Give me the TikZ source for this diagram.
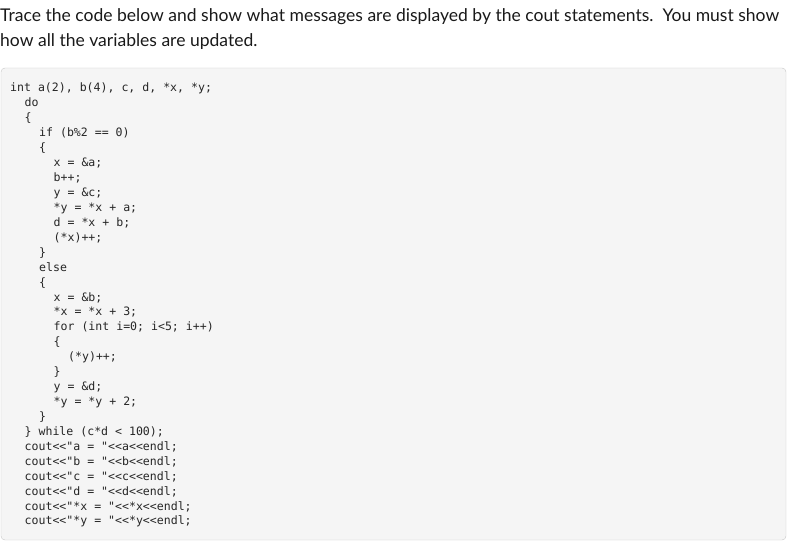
\documentclass[tikz,border=0pt]{standalone}
\usepackage{fontspec}
\setmainfont{Lato}
\setmonofont{DejaVu Sans Mono}
\begin{document}
\begin{tikzpicture}[x=1bp,y=-1bp,
  code/.style={anchor=base west,inner sep=0,font=\ttfamily\fontsize{11.6}{12}\selectfont,text=black!85},
  head/.style={anchor=base west,inner sep=0,font=\fontsize{17.6}{20}\selectfont,text=black!90}]
\useasboundingbox (0,0) rectangle (787,552);
\node[head] (h1) at (0,22) {Trace the code below and show what messages are displayed by the cout statements.\ \ You must show};
\node[head] (h2) at (0,47) {how all the variables are updated.};
\draw[draw=black!22,fill=black!4,rounded corners=4] (1,68) rectangle (786,540);
\def\L#1#2#3{\node[code] (c#1) at ({10+14.5*#2},{92+14.93*(#1-1)}) {#3};}
\L{1}{0}{int a(2), b(4), c, d, *x, *y;}
\L{2}{1}{do}
\L{3}{1}{\{}
\L{4}{2}{if (b\%2 == 0)}
\L{5}{2}{\{}
\L{6}{3}{x = \&a;}
\L{7}{3}{b++;}
\L{8}{3}{y = \&c;}
\L{9}{3}{*y = *x + a;}
\L{10}{3}{d = *x + b;}
\L{11}{3}{(*x)++;}
\L{12}{2}{\}}
\L{13}{2}{else}
\L{14}{2}{\{}
\L{15}{3}{x = \&b;}
\L{16}{3}{*x = *x + 3;}
\L{17}{3}{for (int i=0; i<5; i++)}
\L{18}{3}{\{}
\L{19}{4}{(*y)++;}
\L{20}{3}{\}}
\L{21}{3}{y = \&d;}
\L{22}{3}{*y = *y + 2;}
\L{23}{2}{\}}
\L{24}{1}{\} while (c*d < 100);}
\L{25}{1}{cout<{}<"a = "<{}<a<{}<endl;}
\L{26}{1}{cout<{}<"b = "<{}<b<{}<endl;}
\L{27}{1}{cout<{}<"c = "<{}<c<{}<endl;}
\L{28}{1}{cout<{}<"d = "<{}<d<{}<endl;}
\L{29}{1}{cout<{}<"*x = "<{}<*x<{}<endl;}
\L{30}{1}{cout<{}<"*y = "<{}<*y<{}<endl;}
\end{tikzpicture}
\end{document}
